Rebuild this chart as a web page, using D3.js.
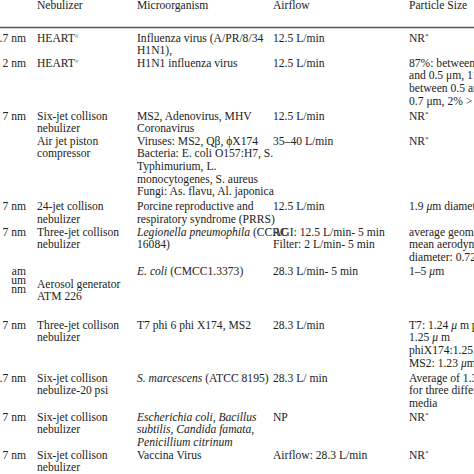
<!DOCTYPE html>
<html><head><meta charset="utf-8">
<script src="https://cdn.jsdelivr.net/npm/d3@7"></script>
<style>body{margin:0;background:#fff}text{font-family:"Liberation Serif","DejaVu Serif",serif;font-size:11.6px;fill:#222}</style>
</head><body>
<script>
// columns of the table; "_" toggles italic, "^" toggles superscript
const headers = ['', 'Nebulizer', 'Microorganism', 'Airflow', 'Particle Size'];
const sizeCol = [['.7 nm'], ['2 nm'], ['7 nm'], [], ['7 nm'], ['7 nm'], ['am', 'um', 'nm'], ['7 nm'], ['.7 nm'], ['7 nm'], ['7 nm']];
const nebulizers = [['HEART^#^'], ['HEART^#^'], ['Six-jet collison', 'nebulizer'], ['Air jet piston', 'compressor'],
  ['24-jet collison', 'nebulizer'], ['Three-jet collison', 'nebulizer'], ['', 'Aerosol generator', 'ATM 226'],
  ['Three-jet collison', 'nebulizer'], ['Six-jet collison', 'nebulize-20 psi'], ['Six-jet collison', 'nebulizer'],
  ['Six-jet collison', 'nebulizer']];
const organisms = [['Influenza virus (A/PR/8/34', 'H1N1),'], ['H1N1 influenza virus'], ['MS2, Adenovirus, MHV', 'Coronavirus'],
  ['Viruses: MS2, Qβ, ϕX174', 'Bacteria: E. coli O157:H7, S.', 'Typhimurium, L.', 'monocytogenes, S. aureus', 'Fungi: As. flavu, Al. japonica'],
  ['Porcine reproductive and', 'respiratory syndrome (PRRS)'], ['_Legionella pneumophila_ (CCRC', '16084)'],
  ['_E. coli_ (CMCC1.3373)'], ['T7 phi 6 phi X174, MS2'], ['_S. marcescens_ (ATCC 8195)'],
  ['_Escherichia coli, Bacillus_', '_subtilis, Candida famata,_', '_Penicillium citrinum_'], ['Vaccina Virus']];
const airflows = [['12.5 L/min'], ['12.5 L/min'], ['12.5 L/min'], ['35–40 L/min'], ['12.5 L/min'],
  ['AGI: 12.5 L/min- 5 min', 'Filter: 2 L/min- 5 min'], ['28.3 L/min- 5 min'], ['28.3 L/min'], ['28.3 L/ min'], ['NP'],
  ['Airflow: 28.3 L/min']];
const particles = [['NR^*^'], ['87%: between 0.3', 'and 0.5 μm, 11%', 'between 0.5 and', '0.7 μm, 2% > 0.7'], ['NR^*^'], ['NR^*^'],
  ['1.9 _μ_m diameter'], ['average geometric', 'mean aerodynamic', 'diameter: 0.72 μm'], ['1–5 _μ_m'],
  ['T7: 1.24 _μ_ m p-6:', '1.25 _μ_ m', 'phiX174:1.25 _μ_ m', 'MS2: 1.23 _μ_m'], ['Average of 1.3 μm', 'for three different', 'media'],
  ['NR^*^'], ['NR^*^']];
// row start, in text lines from the first row
const rowStart = [0, 2, 6.2, 8.2, 13.4, 15.4, 18.5, 22.8, 27.0, 30.1, 33.1];

const W = 474, H = 474, lineH = 12.6;
const colX = [26, 37, 137, 273, 409];
const y = d3.scaleLinear().domain([0, 1]).range([41.5, 41.5 + lineH]);

const svg = d3.select('body').append('svg').attr('width', W).attr('height', H);

function addText(g, str) {
  const parts = str.split(/([_^])/);
  let it = false, sup = false;
  parts.forEach(p => {
    if (p === '_') { it = !it; return; }
    if (p === '^') { sup = !sup; return; }
    if (!p) return;
    const t = g.append('tspan').text(p);
    if (it) t.attr('font-style', 'italic');
    if (sup) t.attr('font-size', '7px').attr('dy', '-4').style('fill', p === '#' ? '#7ab' : '#222');
  });
}

svg.selectAll('.hdr').data(headers).join('text')
  .attr('x', (d, i) => colX[i]).attr('y', 9).text(d => d);
svg.append('line').attr('x1', 0).attr('x2', W).attr('y1', 27.5).attr('y2', 27.5)
  .attr('stroke', '#555').attr('stroke-width', 1.6);

const cols = [sizeCol, nebulizers, organisms, airflows, particles];
cols.forEach((col, ci) => {
  col.forEach((lines, ri) => {
    lines.forEach((ln, li) => {
      let idx = rowStart[ri] + li;
      if (ci === 0 && ri === 6) idx = rowStart[ri] + li * 0.72;
      if (ci === 1 && ri === 6) idx = rowStart[ri] + 1.03 + (li - 1) * 0.97;
      const t = svg.append('text').attr('x', colX[ci]).attr('y', y(idx))
        .attr('text-anchor', ci === 0 ? 'end' : 'start');
      addText(t, ln);
    });
  });
});
</script>
</body></html>
